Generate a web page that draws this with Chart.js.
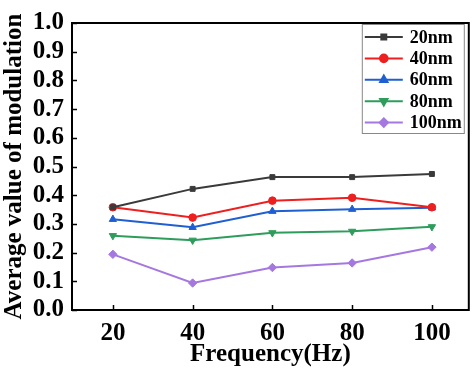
<!DOCTYPE html>
<html>
<head>
<meta charset="utf-8">
<script src="https://cdn.jsdelivr.net/npm/chart.js@4.4.0/dist/chart.umd.min.js"></script>
<style>
html, body { margin: 0; padding: 0; background: #fff; }
#wrap { width: 474px; height: 371px; }
</style>
</head>
<body>
<div id="wrap"><canvas id="chart" width="474" height="371"></canvas></div>
<script>
// data
const frequencies = [20, 40, 60, 80, 100];
const xTicks = [20, 40, 60, 80, 100];
const yTicks = [0, 0.1, 0.2, 0.3, 0.4, 0.5, 0.6, 0.7, 0.8, 0.9, 1.0];
const seriesNames = ['20nm', '40nm', '60nm', '80nm', '100nm'];
const mod20nm = [0.358, 0.422, 0.463, 0.463, 0.474];
const mod40nm = [0.358, 0.322, 0.381, 0.391, 0.358];
const mod60nm = [0.316, 0.288, 0.344, 0.351, 0.356];
const mod80nm = [0.259, 0.243, 0.269, 0.274, 0.290];
const mod100nm = [0.194, 0.094, 0.148, 0.164, 0.219];

const FONT = "'Liberation Serif', 'Times New Roman', serif";

const styles = [
    { color: '#3a3a3a', point: 'rect', rot: 0, r: 3.5 },
    { color: '#ee1f1f', point: 'circle', rot: 0, r: 3.8 },
    { color: '#1f5fd2', point: 'triangle', rot: 0, r: 4.2 },
    { color: '#2e9d5c', point: 'triangle', rot: 180, r: 4.2 },
    { color: '#a578e0', point: 'rectRot', rot: 0, r: 4.2 }
];

const allSeries = [mod20nm, mod40nm, mod60nm, mod80nm, mod100nm];

const datasets = allSeries.map((vals, i) => ({
    label: seriesNames[i],
    data: frequencies.map((f, j) => ({ x: f, y: vals[j] })),
    borderColor: styles[i].color,
    backgroundColor: styles[i].color,
    borderWidth: 2,
    pointStyle: styles[i].point,
    pointRotation: styles[i].rot,
    pointRadius: styles[i].r,
    pointBorderWidth: 1,
    tension: 0
}));

// frame box, inward ticks and in-plot legend
const framePlugin = {
    id: 'frame',
    afterDatasetsDraw(chart) {
        const { ctx, chartArea: a, scales } = chart;
        ctx.save();
        ctx.strokeStyle = '#000';
        ctx.lineWidth = 2;
        ctx.strokeRect(a.left, a.top, a.right - a.left, a.bottom - a.top);
        ctx.lineWidth = 1.5;
        ctx.beginPath();
        xTicks.forEach(v => {
            const px = Math.round(scales.x.getPixelForValue(v)) + 0.5;
            ctx.moveTo(px, a.bottom);
            ctx.lineTo(px, a.bottom - 5);
        });
        yTicks.forEach(v => {
            const py = Math.round(scales.y.getPixelForValue(v)) + 0.5;
            ctx.moveTo(a.left, py);
            ctx.lineTo(a.left + 5, py);
        });
        ctx.stroke();

        // legend
        const bx = a.right - 107, by = a.top + 1, bw = 102, bh = 109;
        ctx.fillStyle = '#fff';
        ctx.fillRect(bx, by, bw, bh);
        ctx.strokeStyle = '#888';
        ctx.lineWidth = 1;
        ctx.strokeRect(bx + 0.5, by + 0.5, bw, bh);
        ctx.font = 'bold 18px ' + FONT;
        ctx.textBaseline = 'middle';
        chart.data.datasets.forEach((ds, i) => {
            const y = by + 13 + i * 21.4;
            ctx.strokeStyle = ds.borderColor;
            ctx.lineWidth = 2;
            ctx.beginPath();
            ctx.moveTo(bx + 3, y);
            ctx.lineTo(bx + 41, y);
            ctx.stroke();
            ctx.fillStyle = ds.backgroundColor;
            Chart.helpers.drawPoint(ctx, {
                pointStyle: ds.pointStyle,
                rotation: ds.pointRotation,
                radius: ds.pointRadius,
                borderWidth: 1
            }, bx + 22, y);
            ctx.fillStyle = '#000';
            ctx.fillText(ds.label, bx + 48, y + 1);
        });
        ctx.restore();
    }
};

new Chart(document.getElementById('chart'), {
    type: 'line',
    data: { datasets },
    options: {
        responsive: false,
        animation: false,
        devicePixelRatio: 1,
        layout: { padding: { top: 10, right: 5, left: 0, bottom: 0 } },
        plugins: { legend: { display: false }, tooltip: { enabled: false } },
        scales: {
            x: {
                type: 'linear',
                min: 9.75,
                max: 109.25,
                afterBuildTicks: s => { s.ticks = xTicks.map(v => ({ value: v })); },
                afterFit: s => { s.height = 61; },
                grid: { display: false, drawTicks: false },
                border: { display: false },
                ticks: {
                    autoSkip: false,
                    padding: 9,
                    color: '#000',
                    font: { family: FONT, size: 25, weight: 'bold' },
                    maxRotation: 0
                },
                title: {
                    display: true,
                    text: 'Frequency(Hz)',
                    color: '#000',
                    font: { family: FONT, size: 25, weight: 'bold' },
                    padding: { top: 0, bottom: 1 }
                }
            },
            y: {
                min: 0,
                max: 1,
                afterBuildTicks: s => { s.ticks = yTicks.map(v => ({ value: v })); },
                afterFit: s => { s.width = 72; },
                grid: { display: false, drawTicks: false },
                border: { display: false },
                ticks: {
                    autoSkip: false,
                    padding: 8,
                    color: '#000',
                    font: { family: FONT, size: 25, weight: 'bold' },
                    callback: v => v.toFixed(1)
                },
                title: {
                    display: true,
                    text: 'Average value of modulation',
                    color: '#000',
                    font: { family: FONT, size: 25, weight: 'bold' },
                    padding: { top: 0, bottom: 0 }
                }
            }
        }
    },
    plugins: [framePlugin]
});
</script>
</body>
</html>
